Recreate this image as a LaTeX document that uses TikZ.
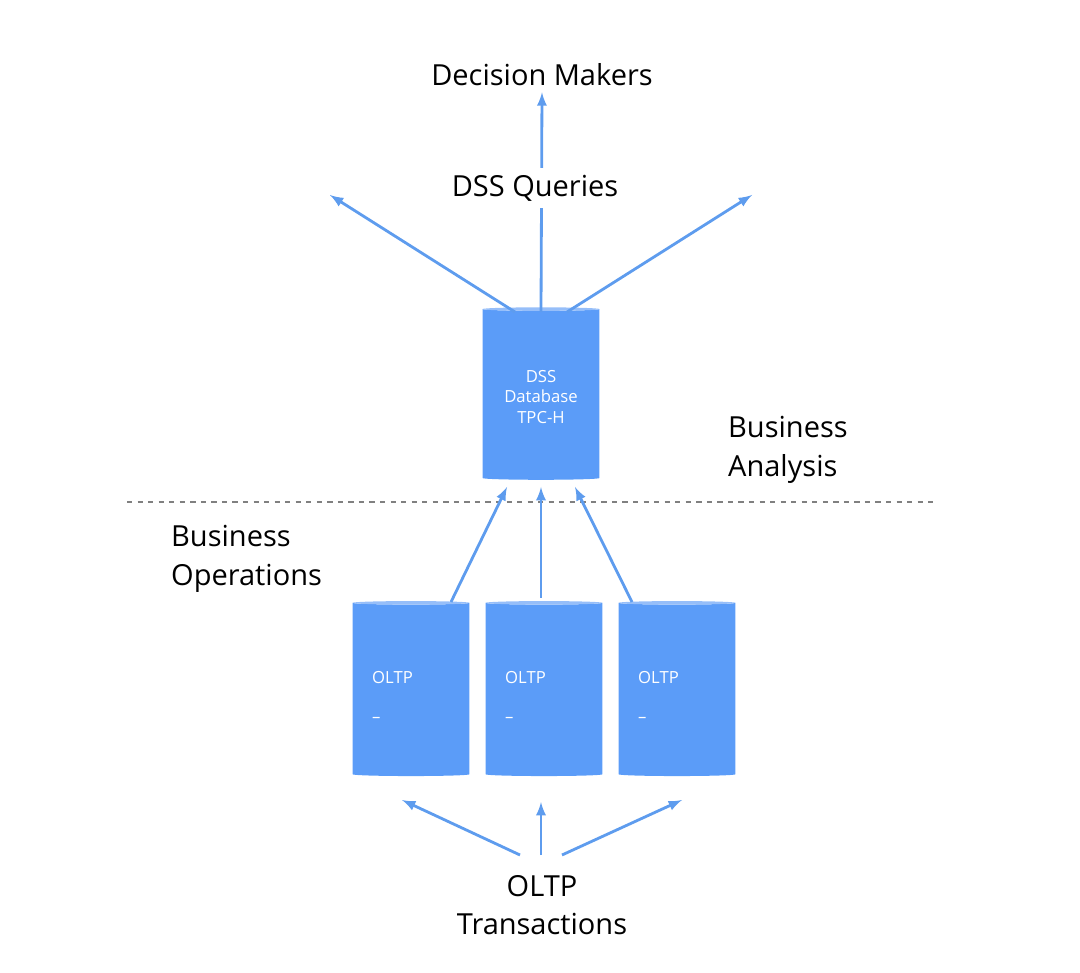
\documentclass[tikz,border=0pt]{standalone}
\usepackage{fontspec}
\setmainfont{Open Sans}
\usetikzlibrary{shapes.geometric}
\definecolor{db_blue}{HTML}{5B9CF8}
\definecolor{db_top}{HTML}{96BEF9}
\definecolor{arrow_blue}{HTML}{5E9CEE}
\tikzset{
  db/.style={cylinder, shape border rotate=90, aspect=0.3, draw=none,
    cylinder uses custom fill, cylinder body fill=db_blue, cylinder end fill=db_top,
    minimum width=2.34cm, text=white},
  flow/.style={->, >=latex, thick, arrow_blue, line width=1.6pt},
  big/.style={font=\fontsize{16.5}{22}\selectfont, align=left},
  small/.style={font=\fontsize{9.5}{11.5}\selectfont, text=white, align=center}
}
\begin{document}
\begin{tikzpicture}[x=0.02cm, y=-0.02cm]
      \useasboundingbox (0,0) rectangle (1080,973);
      % Databases
      \node[db, minimum height=3.45cm] (dss) at (541,395) {};
      \node[small] (dsstext) at (541,397) {DSS\\Database\\TPC-H};
      \foreach \i/\x in {1/411,2/544,3/677} {
        \node[db, minimum height=3.5cm] (oltp\i) at (\x,690) {};
        \node[small, anchor=west] at (\x-45,678) {OLTP};
        \node[small, anchor=west] at (\x-45,720) {--};
      }
      % Labels
      \node[big] (makers) at (542,75) {Decision Makers};
      \node[big, align=center] (trans) at (542,905) {OLTP\\Transactions};
      \node[big, anchor=west] (analysis) at (722,450) {Business\\Analysis};
      \node[big, anchor=west] (ops) at (165,559) {Business\\Operations};
      % Separator
      \coordinate (sepl) at (127,502);
      \coordinate (sepr) at (938,502);
      \draw[gray, dashed, line width=0.8pt] (sepl) -- (sepr);
      % Queries
      \coordinate (qtl) at (515,312);
      \coordinate (qtc) at (541,312);
      \coordinate (qtr) at (567,312);
      \coordinate (ql) at (330,195);
      \coordinate (qr) at (752,195);
      \draw[flow] (qtc) -- (makers.south);
      \node[big, fill=white, inner sep=4pt] (queries) at (535,188) {DSS Queries};
      \draw[flow] (qtl) -- (ql);
      \draw[flow] (qtr) -- (qr);
      % Loading
      \coordinate (l1) at (451,602);
      \coordinate (l2) at (541,598);
      \coordinate (l3) at (632,602);
      \draw[flow] (l1) -- (507,487);
      \draw[flow] (l2) -- (541,487);
      \draw[flow] (l3) -- (575,487);
      % Transactions
      \coordinate (tl) at (520,855);
      \coordinate (tc) at (541,855);
      \coordinate (tr) at (562,855);
      \draw[flow] (tl) -- (402,800);
      \draw[flow] (tc) -- (541,802);
      \draw[flow] (tr) -- (682,800);
\end{tikzpicture}
\end{document}
